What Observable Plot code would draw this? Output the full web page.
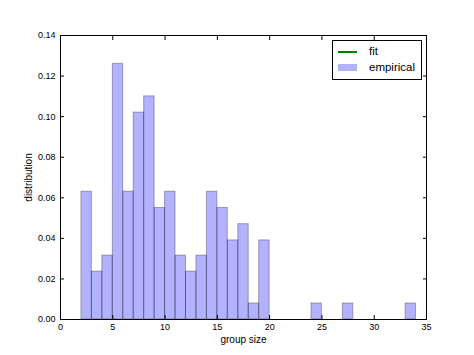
<!DOCTYPE html>
<html>
<head>
<meta charset="utf-8">
<script src="https://cdn.jsdelivr.net/npm/d3@7"></script>
<script src="https://cdn.jsdelivr.net/npm/@observablehq/plot@0.6"></script>
<style>
  html, body { margin: 0; padding: 0; background: #fff; }
  #wrap { position: relative; width: 474px; height: 355px; font-family: "Liberation Sans", Arial, sans-serif; }
  #legend { position: absolute; left: 332px; top: 40px; width: 88px; height: 38px; border: 1px solid #000; background: #fff; font-size: 11.5px; color: #000; }
  .sw { position: absolute; left: 5px; width: 19px; }
  .lbl { position: absolute; left: 36px; white-space: nowrap; line-height: 1; }
</style>
</head>
<body>
<div id="wrap"></div>
<script>
// bin left edges (bin width 1) and empirical densities
const binStart = [2, 3, 4, 5, 6, 7, 8, 9, 10, 11, 12, 13, 14, 15, 16, 17, 18, 19, 24, 27, 33];
const density = [0.063, 0.0236, 0.0315, 0.126, 0.063, 0.102, 0.110, 0.055, 0.063, 0.0315, 0.0236, 0.0315,
                 0.063, 0.055, 0.039, 0.047, 0.0079, 0.039, 0.0079, 0.0079, 0.0079];
const binWidth = 1;
const xTicks = [0, 5, 10, 15, 20, 25, 30, 35];
const yTicks = [0, 0.02, 0.04, 0.06, 0.08, 0.10, 0.12, 0.14];
const legendLabels = ["fit", "empirical"];

const bins = binStart.map((s, i) => ({x1: s, x2: s + binWidth, y: density[i]}));

const chart = Plot.plot({
  width: 474,
  height: 355,
  marginLeft: 60,
  marginRight: 48,
  marginTop: 35,
  marginBottom: 36,
  style: {fontFamily: "Liberation Sans, Arial, sans-serif", fontSize: "10px", background: "#fff", color: "#000"},
  x: {domain: [0, 35]},
  y: {domain: [0, 0.14]},
  marks: [
    Plot.rectY(bins, {x1: "x1", x2: "x2", y: "y", fill: "blue", fillOpacity: 0.3, stroke: "black", strokeOpacity: 0.3, strokeWidth: 1}),
    Plot.frame({stroke: "#000", strokeWidth: 1}),
    Plot.axisX(xTicks, {anchor: "bottom", tickSize: -4, tickPadding: 8, fontSize: "9px", label: null}),
    Plot.axisX({anchor: "bottom", ticks: [], label: "group size", labelAnchor: "center", labelArrow: "none", labelOffset: 23, fontSize: "10px"}),
    Plot.axisX(xTicks, {anchor: "top", tickSize: -4, tickFormat: () => "", label: null}),
    Plot.axisY(yTicks, {anchor: "left", tickSize: -4, tickPadding: 9, fontSize: "9px", tickFormat: d3.format(".2f"), label: null}),
    Plot.axisY({anchor: "left", ticks: [], label: "distribution", labelAnchor: "center", labelArrow: "none", labelOffset: 36, fontSize: "10px"}),
    Plot.axisY(yTicks, {anchor: "right", tickSize: -4, tickFormat: () => "", label: null})
  ]
});

const wrap = document.getElementById("wrap");
wrap.appendChild(chart);

const legend = document.createElement("div");
legend.id = "legend";
legend.innerHTML = `
  <div class="sw" style="top:10px;height:0;border-top:2px solid #008000;"></div>
  <div class="lbl" style="top:5px;">${legendLabels[0]}</div>
  <div class="sw" style="top:23px;height:7px;background:rgba(0,0,255,0.3);"></div>
  <div class="lbl" style="top:21px;">${legendLabels[1]}</div>`;
wrap.appendChild(legend);
</script>
</body>
</html>
